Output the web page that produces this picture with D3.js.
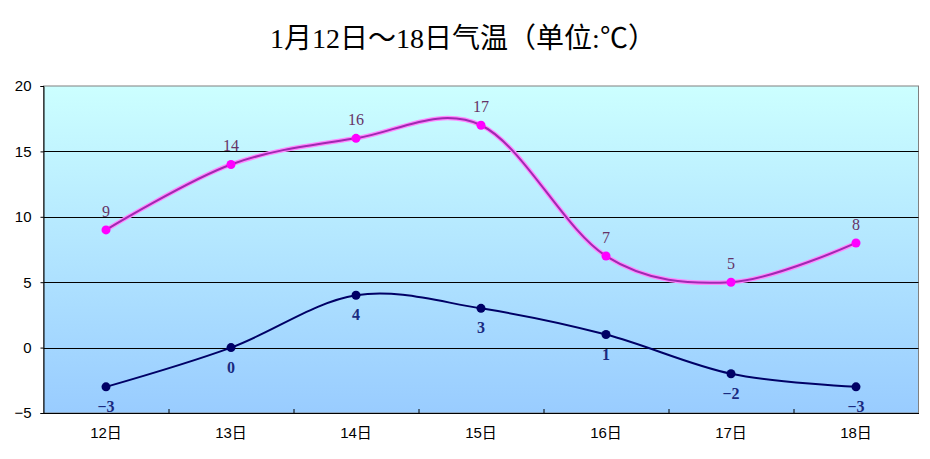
<!DOCTYPE html>
<html>
<head>
<meta charset="utf-8">
<script src="https://cdn.jsdelivr.net/npm/d3@7"></script>
<style>
  body { margin: 0; background: #fff; }
  svg { display: block; }
</style>
</head>
<body>
<script>
// chart data
const days = ["12日", "13日", "14日", "15日", "16日", "17日", "18日"];
const highs = [9, 14, 16, 17, 7, 5, 8];
const lows = [-3, 0, 4, 3, 1, -2, -3];
const yTicks = [-5, 0, 5, 10, 15, 20];

const width = 930, height = 459;
const margin = {top: 86, right: 11.5, bottom: 46, left: 43.5};

const svg = d3.select("body").append("svg")
  .attr("width", width)
  .attr("height", height);

// background gradient for the plot area
const grad = svg.append("defs").append("linearGradient")
  .attr("id", "bg")
  .attr("x1", 0).attr("y1", 0).attr("x2", 0).attr("y2", 1);
grad.append("stop").attr("offset", "0%").attr("stop-color", "#ccffff");
grad.append("stop").attr("offset", "100%").attr("stop-color", "#99ccff");

const x = d3.scaleBand()
  .domain(days)
  .range([margin.left, width - margin.right]);
const y = d3.scaleLinear()
  .domain([-5, 20])
  .range([height - margin.bottom, margin.top]);

const labelFont = "'Liberation Serif', 'Noto Sans CJK SC', serif";
const axisFont = "'Liberation Sans', 'Noto Sans CJK SC', sans-serif";

// title
svg.append("text")
  .attr("x", 463)
  .attr("y", 48)
  .attr("text-anchor", "middle")
  .style("font-family", "'Liberation Serif', 'Noto Sans CJK SC', serif")
  .style("font-size", "28px")
  .style("fill", "#000")
  .text("1月12日～18日气温（单位:℃）");

// plot area
svg.append("rect")
  .attr("x", margin.left)
  .attr("y", margin.top)
  .attr("width", width - margin.left - margin.right)
  .attr("height", height - margin.top - margin.bottom)
  .attr("fill", "url(#bg)")
  .attr("stroke", "#808080");

// gridlines
svg.append("g")
  .selectAll("line")
  .data(yTicks.filter(d => d > -5 && d < 20))
  .join("line")
  .attr("x1", margin.left)
  .attr("x2", width - margin.right)
  .attr("y1", d => Math.round(y(d)) + 0.5)
  .attr("y2", d => Math.round(y(d)) + 0.5)
  .attr("stroke", "#000")
  .attr("stroke-width", 1);

// y axis
const yAxis = d3.axisLeft(y)
  .tickValues(yTicks)
  .tickSize(3)
  .tickPadding(9)
  .tickFormat(d => d < 0 ? "\u2212" + Math.abs(d) : d);
svg.append("g")
  .attr("transform", "translate(" + margin.left + ",0)")
  .call(yAxis)
  .call(g => g.select(".domain").attr("stroke", "#000"))
  .call(g => g.selectAll(".tick line").attr("stroke", "#000"))
  .call(g => g.selectAll("text")
    .style("font-family", axisFont)
    .style("font-size", "15px")
    .attr("fill", "#000"));

// x axis, ticks at band edges pointing inward
const xAxis = d3.axisBottom(x).tickSize(0).tickPadding(14);
svg.append("g")
  .attr("transform", "translate(0," + (height - margin.bottom) + ")")
  .call(xAxis)
  .call(g => g.select(".domain").attr("stroke", "#000"))
  .call(g => g.selectAll("text")
    .style("font-family", axisFont)
    .style("font-size", "15px")
    .attr("fill", "#000"));
svg.append("g")
  .selectAll("line")
  .data(days.slice(1))
  .join("line")
  .attr("x1", d => x(d) + 0.5)
  .attr("x2", d => x(d) + 0.5)
  .attr("y1", height - margin.bottom)
  .attr("y2", height - margin.bottom - 4)
  .attr("stroke", "#000");

const cx = d => x(d) + x.bandwidth() / 2;
const line = d3.line()
  .x((d, i) => cx(days[i]))
  .y(d => y(d))
  .curve(d3.curveCardinal.tension(0));

// high temperature line: pink halo under purple line
svg.append("path")
  .datum(highs)
  .attr("d", line)
  .attr("fill", "none")
  .attr("stroke", "#ff88ff")
  .attr("stroke-width", 4.5);
svg.append("path")
  .datum(highs)
  .attr("d", line)
  .attr("fill", "none")
  .attr("stroke", "#a028b0")
  .attr("stroke-width", 2);
svg.append("g")
  .selectAll("circle")
  .data(highs)
  .join("circle")
  .attr("cx", (d, i) => cx(days[i]))
  .attr("cy", d => y(d))
  .attr("r", 4.5)
  .attr("fill", "#ff00ff");
svg.append("g")
  .selectAll("text")
  .data(highs)
  .join("text")
  .attr("x", (d, i) => cx(days[i]))
  .attr("y", d => y(d) - 13)
  .attr("text-anchor", "middle")
  .style("font-family", labelFont)
  .style("font-size", "16px")
  .attr("fill", "#663366")
  .text(d => d);

// low temperature line
svg.append("path")
  .datum(lows)
  .attr("d", line)
  .attr("fill", "none")
  .attr("stroke", "#000066")
  .attr("stroke-width", 2);
svg.append("g")
  .selectAll("circle")
  .data(lows)
  .join("circle")
  .attr("cx", (d, i) => cx(days[i]))
  .attr("cy", d => y(d))
  .attr("r", 4.5)
  .attr("fill", "#000066");
svg.append("g")
  .selectAll("text")
  .data(lows)
  .join("text")
  .attr("x", (d, i) => cx(days[i]))
  .attr("y", d => y(d) + 25)
  .attr("text-anchor", "middle")
  .style("font-family", labelFont)
  .style("font-size", "16px")
  .style("font-weight", "bold")
  .attr("fill", "#1a2a80")
  .text(d => d < 0 ? "\u2212" + Math.abs(d) : d);
</script>
</body>
</html>
